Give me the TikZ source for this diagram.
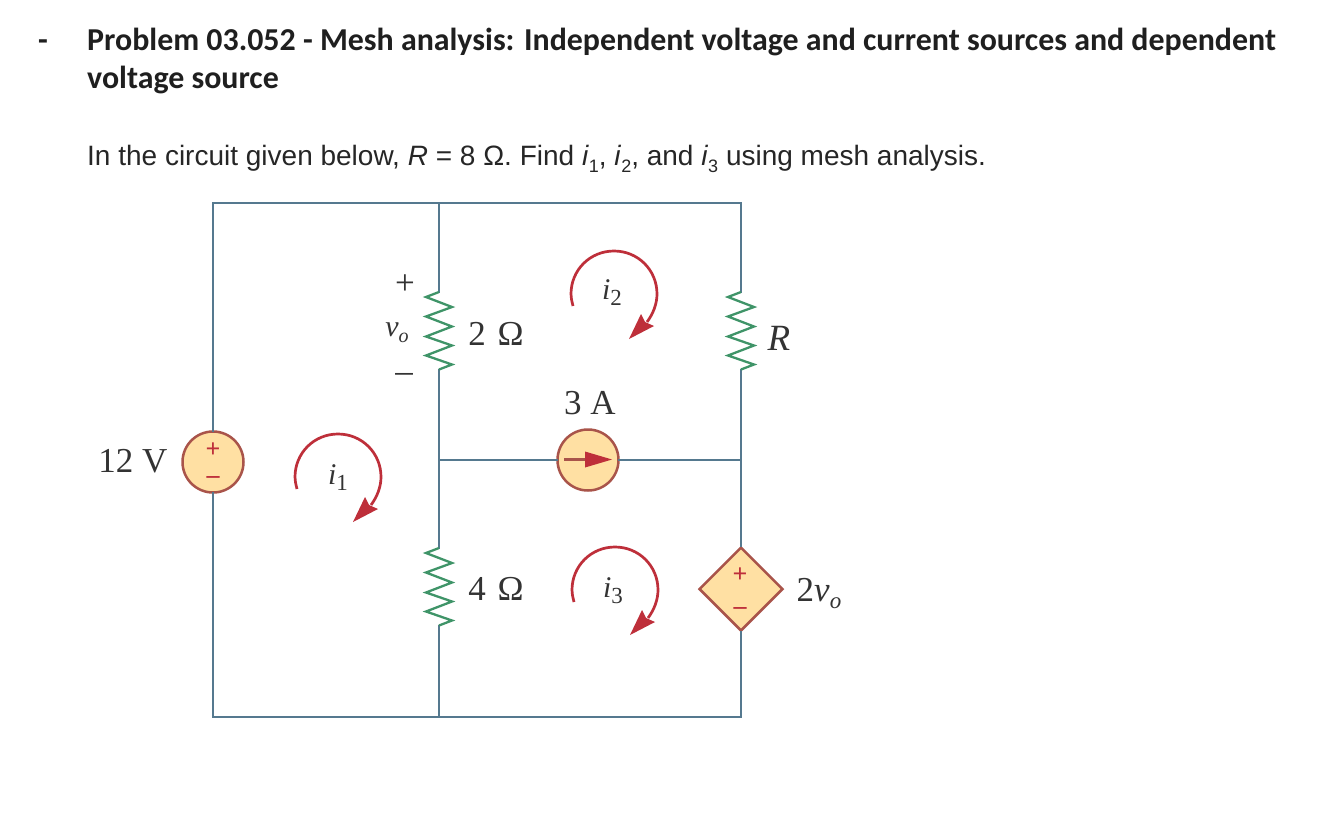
\documentclass[tikz,border=0pt]{standalone}
\usepackage{fontspec}
\setmainfont{Liberation Sans}
\newfontfamily\headfont{Carlito}
\newfontfamily\circfont{Liberation Serif}
\usetikzlibrary{shapes.geometric}
\definecolor{wirec}{HTML}{55798F}
\definecolor{resc}{HTML}{3F9468}
\definecolor{srcfill}{HTML}{FFE0A3}
\definecolor{srcline}{HTML}{A9544A}
\definecolor{redc}{HTML}{BE2F3A}
\definecolor{inkc}{HTML}{333333}
\newcommand{\lsub}[1]{\raisebox{-0.27em}{\fontsize{18}{18}\selectfont\upshape #1}}
\newcommand{\csub}[1]{\raisebox{-0.22em}{\fontsize{23}{23}\selectfont #1}}
\newcommand{\zigzag}[1]{\draw[resline] (#1) ++(0,0) -- ++(-13,5) -- ++(26,10) -- ++(-26,9.5) -- ++(26,10) -- ++(-26,10) -- ++(26,9) -- ++(-26,10) -- ++(26,9) -- ++(-13,5);}
\newcommand{\meshloop}[2]{\begin{scope}[shift={(#1,#2)}]
  \draw[loopline] (-41,12) .. controls (-42.5,6) and (-43,3) .. (-43,0) .. controls (-43,-24) and (-24,-43) .. (0,-43) .. controls (24,-43) and (43,-24) .. (43,0) .. controls (43,10) and (39,20) .. (33,28);
  \fill[redc] (15,45) -- (27,20) -- (31,28) -- (40,32) -- cycle;
\end{scope}}
\tikzset{
  wire/.style={draw=wirec,line width=2.6pt,line cap=rect},
  resline/.style={draw=resc,line width=2.3pt,line join=miter},
  loopline/.style={draw=redc,line width=2.7pt},
  srcshape/.style={circle,draw=srcline,fill=srcfill,line width=2.5pt,minimum size=61pt,inner sep=0pt},
  depshape/.style={diamond,draw=srcline,fill=srcfill,line width=2.5pt,minimum width=84pt,minimum height=84pt,inner sep=0pt},
  head/.style={anchor=base west,inner sep=0pt,font=\headfont\bfseries\fontsize{31.9}{36}\selectfont,text=black!88},
  body/.style={anchor=base west,inner sep=0pt,font=\fontsize{28}{34}\selectfont,text=black!85},
  clabel/.style={inner sep=0pt,text=inkc,font=\circfont\fontsize{35}{40}\selectfont},
  sign/.style={inner sep=0pt,align=center,text=redc,font=\circfont\bfseries\fontsize{26}{26}\selectfont},
  depsign/.style={inner sep=0pt,align=center,text=redc,font=\circfont\bfseries\fontsize{26}{32}\selectfont},
}
\begin{document}
\begin{tikzpicture}[x=1pt,y=-1pt]
\useasboundingbox[fill=white] (0,0) rectangle (1330,828);
% text
\node[head] (dash) at (38,50) {-};
\node[head] (title1) at (87,50) {Problem 03.052 - Mesh analysis: Independent voltage and current sources and dependent};
\node[head] (title2) at (87,88) {voltage source};
\node[body] (intro) at (87,165) {In the circuit given below, \textit{R} = 8 Ω. Find \textit{i}\lsub{1}, \textit{i}\lsub{2}, and \textit{i}\lsub{3} using mesh analysis.};
% junctions
\coordinate (tl) at (213,203);
\coordinate (tm) at (439,203);
\coordinate (tr) at (741,203);
\coordinate (bl) at (213,717);
\coordinate (bm) at (439,717);
\coordinate (br) at (741,717);
\coordinate (mm) at (439,460);
\coordinate (mr) at (741,460);
\coordinate (r2t) at (439,292);
\coordinate (r2b) at (439,370);
\coordinate (r4t) at (439,548);
\coordinate (r4b) at (439,626);
\coordinate (rrt) at (741,292);
\coordinate (rrb) at (741,370);
% sources
\node[srcshape] (vs) at (213,462) {};
\node[srcshape] (cs) at (588,460) {};
\node[depshape] (ds) at (741,589) {};
% wires
\draw[wire] (vs.north) -- (tl) -- (tm) -- (tr) -- (rrt);
\draw[wire] (rrb) -- (mr) -- (ds.north);
\draw[wire] (ds.south) -- (br) -- (bm) -- (bl) -- (vs.south);
\draw[wire] (tm) -- (r2t);
\draw[wire] (r2b) -- (mm) -- (r4t);
\draw[wire] (r4b) -- (bm);
\draw[wire] (mm) -- (cs.west);
\draw[wire] (cs.east) -- (mr);
% resistors
\zigzag{r2t}
\zigzag{r4t}
\zigzag{rrt}
% source signs
\node[sign] (vsign) at (213,463) {+\\–};
\node[depsign] (dsign) at (740,591) {+\\–};
% current source arrow
\draw[draw=srcline,line width=3pt] (564,459.5) -- (588,459.5);
\fill[redc] (612,459.5) -- (585,451.5) -- (585,467.5) -- cycle;
% mesh loops
\meshloop{338}{477}
\meshloop{614}{294}
\meshloop{615}{590}
% labels
\node[clabel,anchor=base] (l12) at (133,472) {12 V};
\node[clabel,anchor=base] (l2) at (496,345) {2\hspace{3pt} Ω};
\node[clabel,anchor=base] (l4) at (496,600) {4\hspace{3pt} Ω};
\node[clabel,anchor=base] (l3) at (590,414) {3 A};
\node[clabel,anchor=base,font=\circfont\itshape\fontsize{37}{40}\selectfont] (lR) at (779,350) {R};
\node[clabel,anchor=base] (ldv) at (819,601) {2\textit{v}\raisebox{-0.2em}{\fontsize{23}{23}\selectfont\textit{o}}};
\node[clabel,anchor=base,font=\circfont\fontsize{30}{32}\selectfont] (lvo) at (397,336) {\textit{v}\raisebox{-0.2em}{\fontsize{20}{20}\selectfont\textit{o}}};
\node[clabel] (lp) at (405,285) {+};
\node[clabel] (lm) at (404,378) {–};
\node[clabel,anchor=base,font=\circfont\itshape\fontsize{30}{32}\selectfont] (li1) at (338,484) {i\csub{\upshape 1}};
\node[clabel,anchor=base,font=\circfont\itshape\fontsize{30}{32}\selectfont] (li2) at (612,299) {i\csub{\upshape 2}};
\node[clabel,anchor=base,font=\circfont\itshape\fontsize{30}{32}\selectfont] (li3) at (613,597) {i\csub{\upshape 3}};
\end{tikzpicture}
\end{document}
